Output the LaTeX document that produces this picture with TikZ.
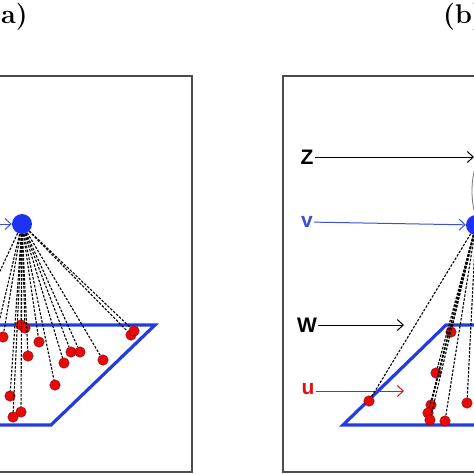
\documentclass[tikz,border=0pt]{standalone}
\usepackage{fontspec}
\newfontfamily\tagfont{Liberation Sans}
\usetikzlibrary{arrows.meta}

\definecolor{planeblue}{RGB}{35,60,225}
\definecolor{dotblue}{RGB}{30,50,245}
\definecolor{arrowblue}{RGB}{60,80,210}
\definecolor{dotred}{RGB}{230,10,10}
\definecolor{textred}{RGB}{220,20,20}

\tikzset{
  reddot/.style={circle, fill=dotred, draw=red!55!black, line width=0.4pt,
    inner sep=0pt, minimum size=10.5pt},
  bluedot/.style={circle, fill=dotblue, inner sep=0pt, minimum size=20pt},
  ray/.style={line width=1.1pt, dash pattern=on 2.5pt off 1.5pt},
  plane/.style={draw=planeblue, line width=3.2pt},
  frame/.style={draw=black!70, line width=1.2pt},
  letter/.style={font=\tagfont\bfseries\fontsize{21}{23}\selectfont, inner sep=1pt},
  panel/.style={font=\bfseries\fontsize{27}{30}\selectfont, inner sep=0pt},
  arr/.style={-{Straight Barb[length=6pt,width=11pt]}, line width=1pt}
}

\begin{document}
\begin{tikzpicture}[x=1pt,y=-1pt]
    \useasboundingbox (0,0) rectangle (474,474);
    \clip (0,0) rectangle (474,474);

    % Panel tags
    \node[panel, anchor=east] (taga) at (28,17) {(a)};
    \node[panel, anchor=west] (tagb) at (443,17) {(b)};

    % Frames
    \draw[frame] (-20,76) rectangle (192,472);
    \draw[frame] (283,76) rectangle (520,472);

    % Planes
    \draw[plane] (-200,325) -- (155,325) -- (51,425) -- (-300,425) -- cycle;
    \draw[plane] (343,425) -- (446,325) -- (600,325) -- (600,425) -- cycle;

    % Panel (a): point source and rays
    \node[bluedot] (va) at (22,224) {};
    \coordinate (sa) at (-5,224);
    \draw[arr, arrowblue] (sa) -- (va);

    \foreach \p [count=\i] in {(3,337),(21,325),(25,328),(39,342),(28,356),
        (71,352),(80,352),(64,363),(103,360),(131,335),(134,331),
        (55,385),(10,396),(21,412),(13,417),(-8,352),(-30,335)} {
      \node[reddot] (a\i) at \p {};
    }
    \foreach \i in {1,...,17} {
      \draw[ray] (va) -- (a\i);
    }

    % Panel (b): labels and arrows
    \node[bluedot] (vb) at (476,225) {};
    \draw[black!55, line width=0.8pt] (483,191) ellipse [x radius=11, y radius=33];

    \node[letter] (z) at (307,157) {Z};
    \coordinate (zend) at (474,157);
    \draw[arr] (z) -- (zend);

    \node[letter, arrowblue] (v) at (307,222) {v};
    \draw[arr, arrowblue] (v) -- (vb);

    \node[letter] (w) at (307,325) {W};
    \coordinate (wend) at (404,325);
    \draw[arr] (w) -- (wend);

    \node[letter, textred] (u) at (308,389) {u};
    \coordinate (uend) at (404,391);
    \draw[arr, textred] (u.east |- uend) -- (uend);

    \foreach \p [count=\i] in {(451,332),(436,373),(369,401),(431,405),
        (428,413),(430,420),(445,421),(467,403)} {
      \node[reddot] (b\i) at \p {};
    }
    \foreach \i in {1,...,8} {
      \draw[ray] (vb) -- (b\i);
    }

\end{tikzpicture}
\end{document}
